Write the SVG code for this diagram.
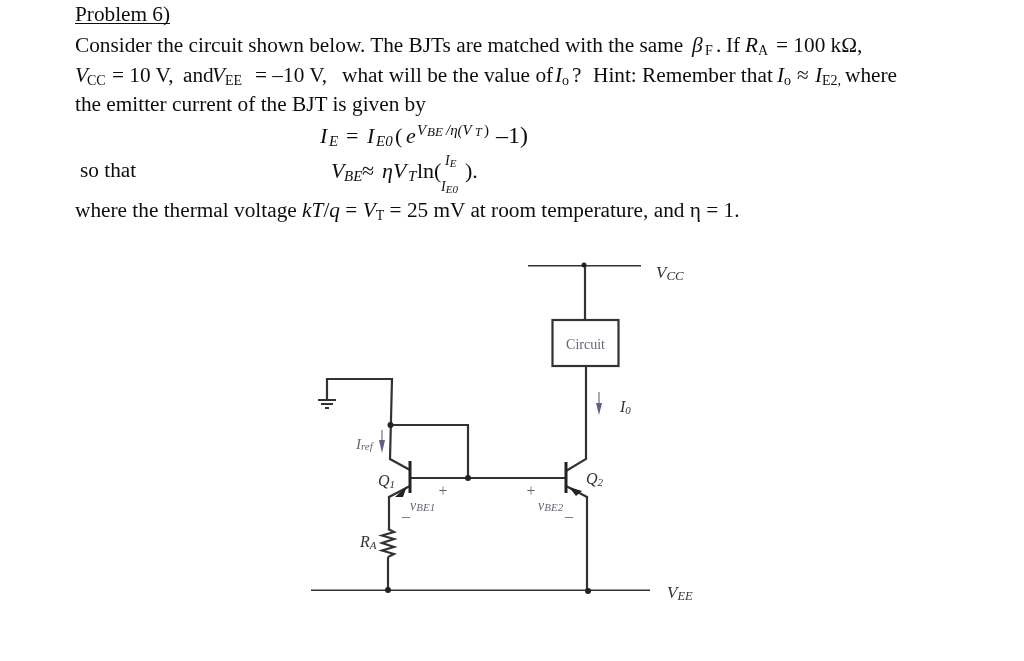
<svg xmlns="http://www.w3.org/2000/svg" width="1024" height="661" viewBox="0 0 1024 661">
<style>
text{font-family:"Liberation Serif",serif;fill:#111}
.t{font-size:21.3px}
.i{font-style:italic}
.m{font-size:22px;font-style:italic}
.n{font-style:normal}
.s{font-size:14px}
.ms{font-size:15px}
.sup{font-size:15px}
.l{font-style:italic;fill:#333}
.g{fill:#667}
.w{fill:none;stroke:#333;stroke-width:2.2}
.rail{fill:none;stroke:#333;stroke-width:3}
.thick{fill:none;stroke:#222;stroke-width:3}
.d{fill:#222}
.a{fill:#5f5f85}
.as{stroke:#7a7a9a;stroke-width:1.3}
</style>
<defs><filter id="soft" x="0" y="0" width="100%" height="100%"><feGaussianBlur stdDeviation="0.35"/></filter></defs>
<rect width="1024" height="661" fill="#fff"/>
<g id="problem-text" filter="url(#soft)">
<text class="t" x="75" y="21" textLength="95">Problem 6)</text>
<path d="M75 23.500H170" stroke="#111" stroke-width="1"/>
<text class="t" x="75" y="52">Consider the circuit shown below. The BJTs are matched with the same <tspan class="i" x="692">β</tspan><tspan class="s" x="705" dy="3">F</tspan><tspan x="716" dy="-3">.</tspan><tspan x="726">If</tspan><tspan class="i" x="745">R</tspan><tspan class="s" x="758" dy="3">A</tspan><tspan x="776" dy="-3">= 100 kΩ,</tspan></text>
<text class="t" x="75" y="82"><tspan class="i">V</tspan><tspan class="s" x="87" dy="3">CC</tspan><tspan x="112" dy="-3">= 10 V,</tspan><tspan x="183">and</tspan><tspan class="i" x="212">V</tspan><tspan class="s" x="225" dy="3">EE</tspan><tspan x="255" dy="-3">= –10 V,</tspan><tspan x="342">what will be the value of</tspan><tspan class="i" x="555">I</tspan><tspan class="s" x="562" dy="3">o</tspan><tspan x="572" dy="-3">?</tspan><tspan x="593">Hint: Remember that</tspan><tspan class="i" x="777">I</tspan><tspan class="s" x="784" dy="3">o</tspan><tspan x="797" dy="-3">≈</tspan><tspan class="i" x="815">I</tspan><tspan class="s" x="822" dy="3">E2,</tspan><tspan x="845" dy="-3">where</tspan></text>
<text class="t" x="75" y="111">the emitter current of the BJT is given by</text>
<text class="m" x="320" y="143">I<tspan class="ms" x="329" dy="3">E</tspan><tspan class="n" x="346" dy="-3">=</tspan><tspan x="367">I</tspan><tspan class="ms" x="376" dy="3">E0</tspan><tspan class="n" x="395" dy="-3">(</tspan><tspan x="406">e</tspan><tspan class="sup" x="417" dy="-8">V</tspan><tspan font-size="13" x="427" dy="1">BE</tspan><tspan class="sup" x="446" dy="-1">/η(V</tspan><tspan font-size="12" x="475" dy="1">T</tspan><tspan class="sup n" x="484" dy="-1">)</tspan><tspan class="n" x="496" dy="8" font-size="24">–1)</tspan></text>
<text class="t" x="80" y="177">so that</text>
<text class="m" x="331" y="178">V<tspan class="ms" x="344" dy="3">BE</tspan><tspan class="n" x="362" dy="-3">≈</tspan><tspan x="382">ηV</tspan><tspan class="ms" x="408" dy="3">T</tspan><tspan class="n" x="417" dy="-3">ln(</tspan></text>
<text class="i" x="445" y="165" font-size="14">I<tspan font-size="11" dy="2">E</tspan></text>
<text class="i" x="441" y="191" font-size="14">I<tspan font-size="11" dy="2">E0</tspan></text>
<text x="465" y="178" font-size="22">).</text>
<text class="t" x="75" y="217">where the thermal voltage <tspan class="i">kT</tspan>/<tspan class="i">q</tspan> = <tspan class="i">V</tspan><tspan class="s" dy="3">T</tspan><tspan dy="-3"> = 25 mV at room temperature, and η = 1.</tspan></text>
</g>
<g id="connectors" filter="url(#soft)">
<path class="rail" d="M528 265H641"/>
<path class="w" d="M585 265V320"/>
<path class="w" d="M586 366V459L566 471"/>
<path class="w" d="M566 486L587 497V591"/>
<path class="rail" d="M311 591H650"/>
<path class="w" d="M327 400V379H392L390 459L410 470"/>
<path class="w" d="M390 425H468V478"/>
<path class="w" d="M410 478H566"/>
<path class="w" d="M410 486L389 497V529"/>
<path class="w" d="M388 557V591"/>
<path class="w" d="M318 400H336M321 404H333M325 408H329"/>
</g>
<g id="nodes" filter="url(#soft)">
<circle id="vcc-dot" class="d" cx="584" cy="265" r="2.500"/>
<circle id="q1-collector-dot" class="d" cx="390.500" cy="425" r="3"/>
<circle id="base-dot" class="d" cx="468" cy="478" r="3"/>
<circle id="ra-dot" class="d" cx="388" cy="590" r="3"/>
<circle id="vee-dot" class="d" cx="588" cy="591" r="3"/>
<g id="circuit">
<rect class="w" x="552.500" y="320" width="66" height="46"/>
<text x="585.500" y="349" text-anchor="middle" font-size="14" style="fill:#667">Circuit</text>
</g>
<g id="q1">
<path class="thick" d="M410 461V493"/>
<path class="d" d="M395 497L407 486L403 497Z"/>
<text class="l" x="378" y="486" font-size="16">Q<tspan font-size="11" dy="2">1</tspan></text>
<text class="l g" x="410" y="510" font-size="14">v<tspan font-size="11" dy="1">BE1</tspan></text>
<text class="g" x="443" y="496" font-size="16" text-anchor="middle">+</text>
<text class="g" x="406" y="521" font-size="16" text-anchor="middle">–</text>
</g>
<g id="q2">
<path class="thick" d="M566 462V493"/>
<path class="d" d="M569 487L582 491L576 496Z"/>
<text class="l" x="586" y="484" font-size="16">Q<tspan font-size="11" dy="2">2</tspan></text>
<text class="l g" x="538" y="510" font-size="14">v<tspan font-size="11" dy="1">BE2</tspan></text>
<text class="g" x="531" y="496" font-size="16" text-anchor="middle">+</text>
<text class="g" x="569" y="521" font-size="16" text-anchor="middle">–</text>
</g>
<g id="ra">
<path class="w" d="M388 529L394 532L382 535.500L394 539L382 543L394 547L382 550.500L394 554L388 557"/>
<text class="l" x="360" y="547" font-size="16">R<tspan font-size="11" dy="2">A</tspan></text>
</g>
<g id="iref">
<path class="as" d="M382 430V442"/>
<path class="a" d="M379 440H385L382 453Z"/>
<text class="l g" x="356" y="449" font-size="15">I<tspan font-size="11" dy="1">ref</tspan></text>
</g>
<g id="io">
<path class="as" d="M599 392V405"/>
<path class="a" d="M596 403H602L599 415Z"/>
<text class="l" x="620" y="412" font-size="16">I<tspan font-size="11" dy="2">0</tspan></text>
</g>
<text id="vcc-label" class="l" x="656" y="278" font-size="17">V<tspan font-size="13" dy="2">CC</tspan></text>
<text id="vee-label" class="l" x="667" y="598" font-size="17">V<tspan font-size="12.500" dy="2">EE</tspan></text>
</g>
</svg>
